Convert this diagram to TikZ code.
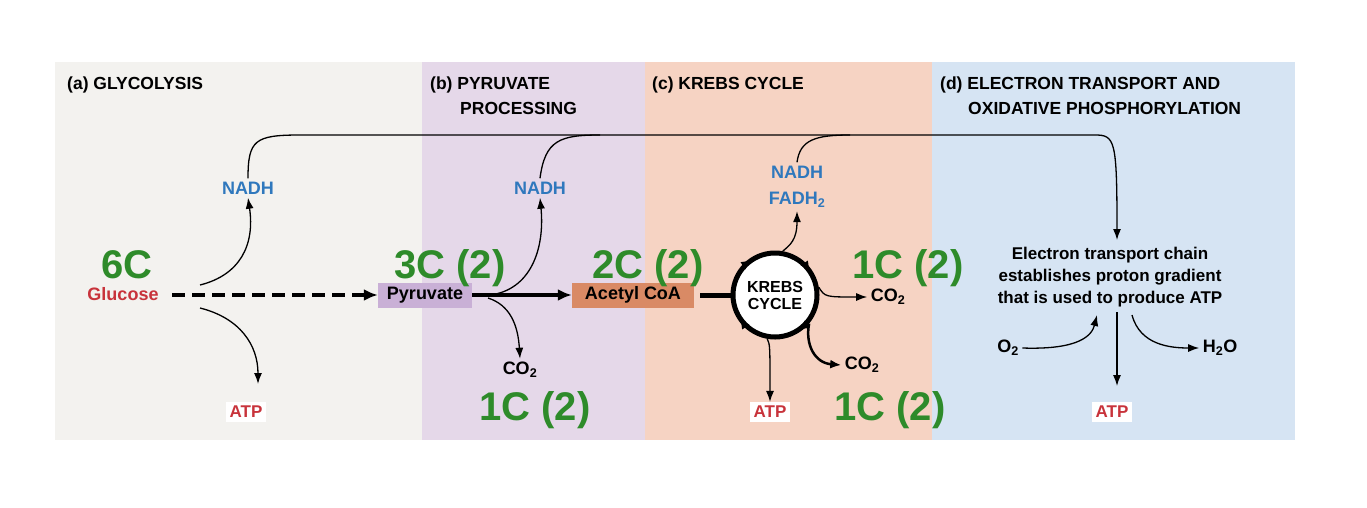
\documentclass[tikz,border=0pt]{standalone}
\usepackage{fontspec}
\setmainfont{Liberation Sans}
\usetikzlibrary{arrows.meta}
\definecolor{pa}{HTML}{F3F2EF}\definecolor{pb}{HTML}{E5D8E9}
\definecolor{pc}{HTML}{F6D3C3}\definecolor{pd}{HTML}{D6E4F3}
\definecolor{nblue}{HTML}{2F78BD}\definecolor{ared}{HTML}{C8333B}
\definecolor{cgreen}{HTML}{2E8B2A}\definecolor{pyr}{HTML}{C9B0D6}\definecolor{acc}{HTML}{D98A65}
\begin{document}
\begin{tikzpicture}[x=1pt,y=-1pt,
 hdr/.style={font=\bfseries\fontsize{17.5}{20}\selectfont,anchor=west,inner sep=0},
 blu/.style={font=\bfseries\fontsize{18}{20}\selectfont,text=nblue},
 atp/.style={font=\bfseries\fontsize{17}{20}\selectfont,text=ared,fill=white,inner sep=4pt},
 grn/.style={font=\bfseries\fontsize{40}{42}\selectfont,text=cgreen,inner sep=0},
 blk/.style={font=\bfseries\fontsize{18}{20}\selectfont},
 ar/.style={-{Latex[length=11pt,width=8pt]},line width=1.3pt},
 thk/.style={-{Latex[length=14pt,width=12pt]},line width=4pt}]
\useasboundingbox (0,0) rectangle (1367,507);
\fill[white] (0,0) rectangle (1367,507);
\fill[pa] (55,62) rectangle (422,440);
\fill[pb] (422,62) rectangle (645,440);
\fill[pc] (645,62) rectangle (932,440);
\fill[pd] (932,62) rectangle (1295,440);
\node[hdr] (ha) at (67,85) {(a) GLYCOLYSIS};
\node[hdr] (hb1) at (430,85) {(b) PYRUVATE};
\node[hdr] (hb2) at (460,108) {PROCESSING};
\node[hdr] (hc) at (652,85) {(c) KREBS CYCLE};
\node[hdr] (hd1) at (940,85) {(d) ELECTRON TRANSPORT AND};
\node[hdr] (hd2) at (968,108) {OXIDATIVE PHOSPHORYLATION};
% glycolysis
\node[grn] (c6) at (127,265) {6C};
\node[blk,text=ared] (glu) at (123,294) {Glucose};
\node[blu] (n1) at (248,188) {NADH};
\node[atp] (a1) at (246,412) {ATP};
\node[blk,fill=pyr,minimum width=94pt,minimum height=25pt,inner sep=0] (pyr) at (425,295) {Pyruvate};
\node[grn] (c3) at (450,268) {3C (2)};
\draw[-{Latex[length=14pt,width=12pt]},line width=4pt,dash pattern=on 13pt off 7pt] (172,295) -- (pyr.west);
\draw[ar] (200,285) .. controls (240,275) and (255,245) .. (n1.south);
\draw[ar] (200,308) .. controls (240,318) and (258,345) .. (258,384);
% pyruvate processing
\node[blu] (n2) at (540,188) {NADH};
\node[blk] (co1) at (520,370) {CO\textsubscript{2}};
\node[grn] (c1a) at (535,410) {1C (2)};
\node[blk,fill=acc,minimum width=122pt,minimum height=25pt,inner sep=0] (acc) at (633,295) {Acetyl CoA};
\node[grn] (c2) at (648,268) {2C (2)};
\draw[thk] (pyr.east) -- (acc.west);
\draw[ar] (490,295) .. controls (530,290) and (545,250) .. (n2.south);
\draw[ar] (488,298) .. controls (510,305) and (518,325) .. (co1.north);
% krebs
\node[circle,draw,line width=5pt,fill=white,minimum size=84pt,inner sep=0,align=center,font=\bfseries\fontsize{16}{17}\selectfont] (kr) at (775,295) {KREBS\\CYCLE};
\draw[line width=5pt] (acc.east)++(6,0) -- (kr.west);
\node[blu] (n3) at (797,172) {NADH};
\node[blu] (f3) at (797,200) {FADH\textsubscript{2}};
\node[blk] (co2) at (888,297) {CO\textsubscript{2}};
\node[grn] (c1b) at (908,268) {1C (2)};
\node[blk] (co3) at (862,365) {CO\textsubscript{2}};
\node[atp] (a3) at (770,412) {ATP};
\node[grn] (c1c) at (890,410) {1C (2)};
\draw[ar] (kr.80) .. controls (790,245) and (797,240) .. (f3.south);
\draw[ar] (kr.10) .. controls (825,297) .. (co2.west);
\draw[-{Latex[length=11pt,width=9pt]},line width=2.5pt] (kr.-40) .. controls (805,345) and (815,363) .. (co3.west);
\draw[ar] (kr.-100) .. controls (770,345) .. (a3.north);
% arrow marks on the cycle
\foreach \a in {125,35,-55,-145} \draw[line width=1.5pt,-{Latex[length=11pt,width=9pt]}] (kr.center)++(\a+10:42) arc (\a+10:\a+22:42);
% ETC
\node[blk,align=center,font=\bfseries\fontsize{17}{22}\selectfont] (etc) at (1110,277) {Electron transport chain\\establishes proton gradient\\that is used to produce ATP};
\node[blk] (o2) at (1008,348) {O\textsubscript{2}};
\node[blk] (h2o) at (1220,348) {H\textsubscript{2}O};
\node[atp] (a4) at (1112,412) {ATP};
\coordinate (ej) at (1117,312);
\draw[ar] (o2.east) .. controls (1080,350) and (1092,335) .. (1097,315);
\draw[ar] (1132,315) .. controls (1140,345) and (1170,348) .. (h2o.west);
\draw[ar] (ej) -- (1117,386);
% top NADH line
\coordinate (t1) at (1095,135);
\draw[ar] (n1.north) .. controls (248,140) and (255,135) .. (300,135) -- (t1) .. controls (1115,135) and (1117,140) .. (1117,240);
\draw[line width=1.3pt] (n2.north) .. controls (545,140) and (560,135) .. (600,135);
\draw[line width=1.3pt] (n3.north) .. controls (800,140) and (815,135) .. (850,135);
\end{tikzpicture}
\end{document}
